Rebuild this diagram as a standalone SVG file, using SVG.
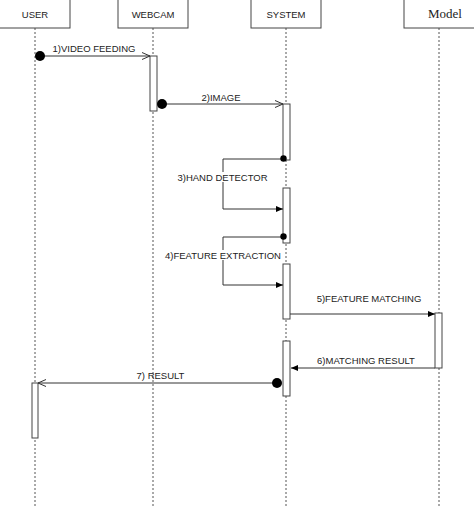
<svg xmlns="http://www.w3.org/2000/svg" width="474" height="508" viewBox="0 0 474 508">
<style>
.hdr{fill:#fff;stroke:#444;stroke-width:1}
.life{stroke:#555;stroke-width:1;stroke-dasharray:2,2;fill:none}
.act{fill:#fff;stroke:#444;stroke-width:1}
.msg{stroke:#333;stroke-width:1;fill:none}
.open{marker-end:url(#openArrow)}
.fill{marker-end:url(#fillArrow)}
.t{font-family:"Liberation Sans",Arial,sans-serif;font-size:9.5px;fill:#222;text-anchor:middle}
.ts{font-family:"Liberation Serif","Times New Roman",serif;font-size:13px;fill:#222;text-anchor:middle}
.dot{fill:#000}
</style>
<defs>
<marker id="openArrow" markerUnits="userSpaceOnUse" markerWidth="10" markerHeight="10" refX="8" refY="4" orient="auto">
<path d="M0,0.5 L8,4 L0,7.5" fill="none" stroke="#333" stroke-width="1"/>
</marker>
<marker id="fillArrow" markerUnits="userSpaceOnUse" markerWidth="10" markerHeight="10" refX="7" refY="3" orient="auto">
<path d="M0,0 L7,3 L0,6 z" fill="#000"/>
</marker>
</defs>
<rect width="474" height="508" fill="#fff"/>
<g id="lifelines">
<line class="life" x1="35" y1="28" x2="35" y2="508"/>
<line class="life" x1="153" y1="28" x2="153" y2="508"/>
<line class="life" x1="286" y1="28" x2="286" y2="508"/>
<line class="life" x1="439" y1="28" x2="439" y2="508"/>
</g>
<g id="user"><rect class="hdr" x="-2" y="-2" width="72" height="30"/><text class="t" x="35" y="17.5">USER</text></g>
<g id="webcam"><rect class="hdr" x="118" y="-2" width="70" height="30"/><text class="t" x="153" y="17.5">WEBCAM</text></g>
<g id="system"><rect class="hdr" x="251" y="-2" width="70" height="30"/><text class="t" x="286" y="17.5">SYSTEM</text></g>
<g id="model"><rect class="hdr" x="404" y="-2" width="72" height="30"/><text class="ts" x="445" y="18">Model</text></g>
<g id="activations">
<rect class="act" x="150" y="56" width="7" height="55"/>
<rect class="act" x="283" y="104" width="7" height="56"/>
<rect class="act" x="283" y="188" width="7" height="55"/>
<rect class="act" x="283" y="264" width="7" height="55"/>
<rect class="act" x="435" y="313" width="7" height="55"/>
<rect class="act" x="283" y="341" width="7" height="55"/>
<rect class="act" x="32" y="383" width="6" height="55"/>
</g>
<g id="connectors">
<line class="msg open" x1="40" y1="56" x2="150" y2="56"/>
<circle class="dot" cx="40" cy="56" r="5"/>
<text class="t" x="94" y="51.5">1)VIDEO FEEDING</text>
<line class="msg open" x1="162" y1="104" x2="283" y2="104"/>
<circle class="dot" cx="162" cy="104" r="5"/>
<text class="t" x="221" y="100.5">2)IMAGE</text>
<polyline class="msg fill" points="283,159 223,159 223,209 283,209"/>
<circle class="dot" cx="283.5" cy="158.5" r="3.2"/>
<rect x="176" y="172" width="93" height="10" fill="#fff"/>
<text class="t" x="222.5" y="180.5">3)HAND DETECTOR</text>
<polyline class="msg fill" points="283,237 223,237 223,285 283,285"/>
<circle class="dot" cx="283.5" cy="236.5" r="3.2"/>
<rect x="164" y="250" width="118" height="10" fill="#fff"/>
<text class="t" x="223" y="258.5">4)FEATURE EXTRACTION</text>
<line class="msg fill" x1="290" y1="314" x2="435" y2="314"/>
<text class="t" x="369" y="301.5">5)FEATURE MATCHING</text>
<line class="msg fill" x1="435" y1="368" x2="291" y2="368"/>
<text class="t" x="366" y="363.5">6)MATCHING RESULT</text>
<line class="msg open" x1="277" y1="383" x2="38" y2="383"/>
<circle class="dot" cx="277" cy="383" r="5"/>
<text class="t" x="160.5" y="378.5">7) RESULT</text>
</g>
</svg>
